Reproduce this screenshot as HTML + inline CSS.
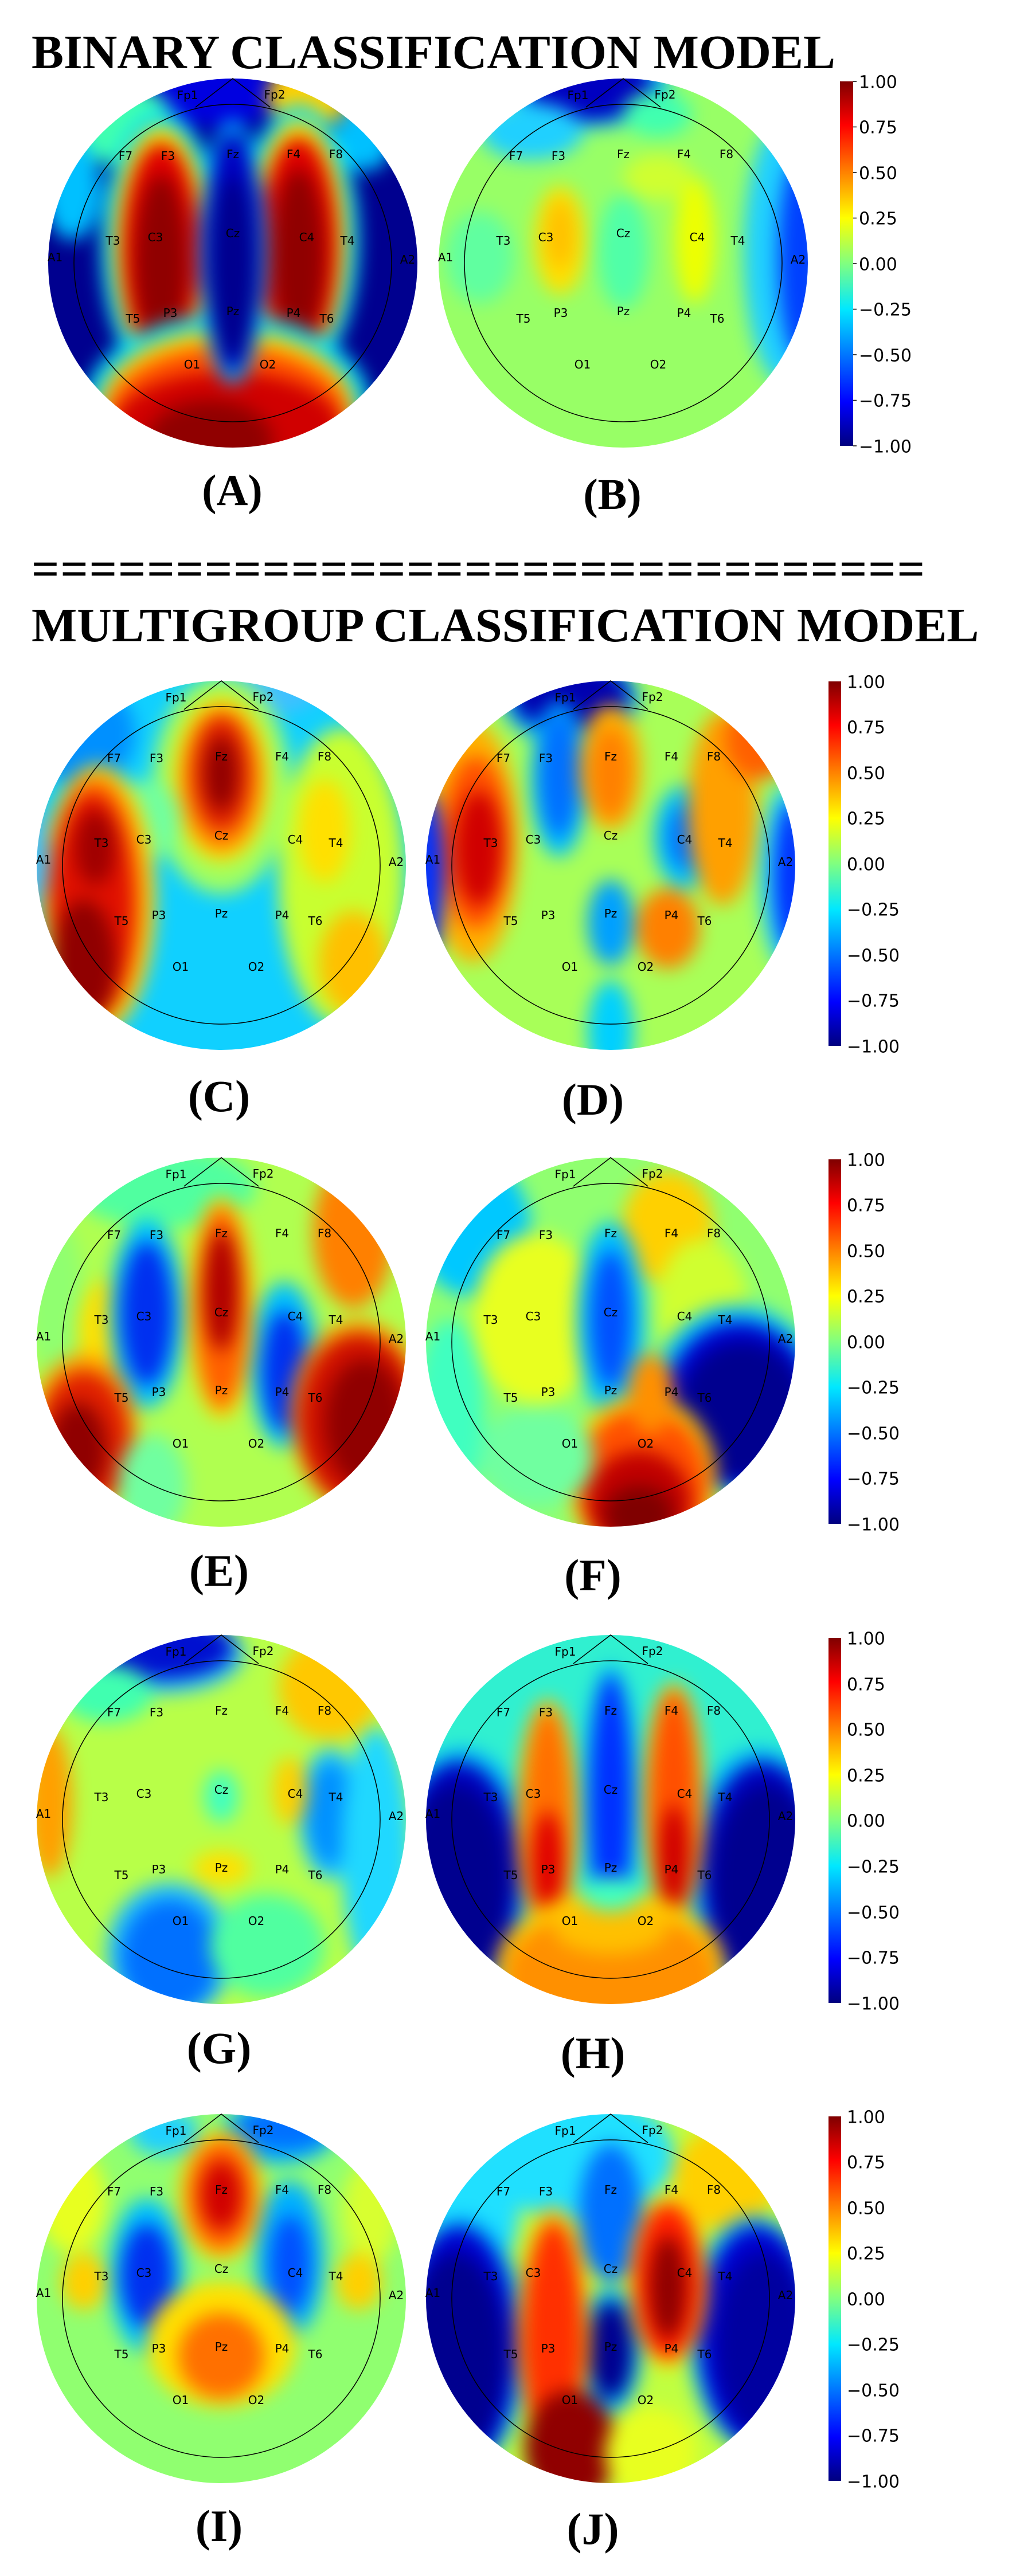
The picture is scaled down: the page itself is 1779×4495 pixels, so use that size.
<!DOCTYPE html>
<html><head><meta charset="utf-8">
<style>
html,body{margin:0;padding:0;background:#fff;}
svg{display:block;}
.t{font-family:"Liberation Serif",serif;font-weight:bold;fill:#000;}
.e{font-family:"DejaVu Sans","Liberation Sans",sans-serif;font-size:20px;fill:#000;text-anchor:middle;dominant-baseline:central;}
.cb{font-family:"DejaVu Sans","Liberation Sans",sans-serif;font-size:30px;fill:#000;dominant-baseline:central;}
</style></head>
<body>
<svg width="1779" height="4495" viewBox="0 0 1779 4495" xmlns="http://www.w3.org/2000/svg">
<defs>
<clipPath id="cl" clipPathUnits="userSpaceOnUse"><circle cx="0" cy="0" r="322"/></clipPath>
<filter id="bl" x="-50%" y="-50%" width="200%" height="200%" color-interpolation-filters="sRGB"><feGaussianBlur stdDeviation="16"/></filter>
<linearGradient id="jet" x1="0" y1="0" x2="0" y2="1">
<stop offset="0" stop-color="#7f0000"/><stop offset="0.12" stop-color="#ff0000"/>
<stop offset="0.375" stop-color="#ffff00"/><stop offset="0.5" stop-color="#80ff80"/>
<stop offset="0.625" stop-color="#00e8ff"/><stop offset="0.88" stop-color="#0000ff"/>
<stop offset="1" stop-color="#00007f"/></linearGradient>
<g id="ol" fill="none" stroke="#000" stroke-width="1.5">
<circle cx="0" cy="0" r="277"/>
<polyline points="-65,-272 0,-322 65,-272"/>
</g>
<g id="lab">
<text class="e" x="-79" y="-293">Fp1</text><text class="e" x="73" y="-294">Fp2</text>
<text class="e" x="-187" y="-187">F7</text><text class="e" x="-113" y="-187">F3</text>
<text class="e" x="0" y="-190">Fz</text><text class="e" x="106" y="-190">F4</text>
<text class="e" x="180" y="-190">F8</text>
<text class="e" x="-209" y="-39">T3</text><text class="e" x="-135" y="-45">C3</text>
<text class="e" x="0" y="-52">Cz</text><text class="e" x="129" y="-45">C4</text>
<text class="e" x="200" y="-39">T4</text>
<text class="e" x="-310" y="-10">A1</text><text class="e" x="305" y="-6">A2</text>
<text class="e" x="-174" y="97">T5</text><text class="e" x="-109" y="87">P3</text>
<text class="e" x="0" y="84">Pz</text><text class="e" x="106" y="87">P4</text>
<text class="e" x="164" y="97">T6</text>
<text class="e" x="-71" y="177">O1</text><text class="e" x="61" y="177">O2</text>
</g>
</defs>

<text class="t" x="55" y="119" font-size="84">BINARY CLASSIFICATION MODEL</text>

<!-- A -->
<g transform="translate(406,459)">
<g clip-path="url(#cl)"><g filter="url(#bl)">
<rect x="-420" y="-420" width="840" height="840" fill="#00008f"/>
<ellipse cx="-30" cy="-300" rx="120" ry="60" fill="#0000e0"/>
<ellipse cx="-190" cy="-240" rx="90" ry="70" fill="#40ffb0"/>
<ellipse cx="130" cy="-290" rx="70" ry="60" fill="#ffd000"/>
<ellipse cx="-280" cy="-130" rx="50" ry="90" fill="#00c0ff"/>
<ellipse cx="230" cy="-220" rx="50" ry="60" fill="#00c0ff"/>
<ellipse cx="-125" cy="-30" rx="105" ry="235" fill="#00e0ff"/>
<ellipse cx="-125" cy="-30" rx="85" ry="210" fill="#ffe000"/>
<ellipse cx="-125" cy="-20" rx="68" ry="190" fill="#e00000"/>
<ellipse cx="-125" cy="0" rx="45" ry="155" fill="#900000"/>
<ellipse cx="115" cy="-40" rx="105" ry="235" fill="#00e0ff"/>
<ellipse cx="115" cy="-40" rx="85" ry="210" fill="#ffe000"/>
<ellipse cx="115" cy="-30" rx="68" ry="190" fill="#e00000"/>
<ellipse cx="115" cy="-10" rx="45" ry="155" fill="#900000"/>
<ellipse cx="-10" cy="250" rx="250" ry="160" fill="#00e0ff"/>
<ellipse cx="-10" cy="260" rx="225" ry="145" fill="#ffd000"/>
<ellipse cx="-10" cy="270" rx="210" ry="125" fill="#ff5000"/>
<ellipse cx="-10" cy="290" rx="200" ry="100" fill="#d00000"/>
<ellipse cx="-40" cy="310" rx="110" ry="70" fill="#900000"/>
<ellipse cx="0" cy="-20" rx="60" ry="230" fill="#00c0ff"/>
<ellipse cx="0" cy="-20" rx="48" ry="210" fill="#0000c0"/>
<ellipse cx="0" cy="10" rx="38" ry="160" fill="#00008f"/>
</g></g>
<use href="#ol"/><use href="#lab"/>
</g>

<!-- B -->
<g transform="translate(1087,459)">
<g clip-path="url(#cl)"><g filter="url(#bl)">
<rect x="-420" y="-420" width="840" height="840" fill="#98ff66"/>
<ellipse cx="-60" cy="-310" rx="140" ry="75" fill="#00b0ff"/>
<ellipse cx="-60" cy="-310" rx="110" ry="60" fill="#0000c0"/>
<ellipse cx="-160" cy="-230" rx="90" ry="50" fill="#20d0ff"/>
<ellipse cx="60" cy="-260" rx="60" ry="40" fill="#40ffb0"/>
<ellipse cx="280" cy="-20" rx="70" ry="230" fill="#20d0ff"/>
<ellipse cx="310" cy="-10" rx="40" ry="180" fill="#0040ff"/>
<ellipse cx="-250" cy="-10" rx="60" ry="80" fill="#60ffa0"/>
<ellipse cx="-110" cy="-40" rx="45" ry="95" fill="#ffe000"/>
<ellipse cx="-110" cy="-50" rx="25" ry="60" fill="#ffc000"/>
<ellipse cx="125" cy="-40" rx="35" ry="110" fill="#eeff00"/>
<ellipse cx="0" cy="-20" rx="45" ry="100" fill="#50ffa8"/>
<ellipse cx="60" cy="-150" rx="60" ry="40" fill="#d0ff30"/>
</g></g>
<use href="#ol"/><use href="#lab"/>
</g>

<!-- colorbar 1 -->
<rect x="1465" y="142" width="23" height="636" fill="url(#jet)"/>
<g stroke="#000" stroke-width="1.5">
<line x1="1488" y1="142" x2="1494" y2="142"/><line x1="1488" y1="221.5" x2="1494" y2="221.5"/><line x1="1488" y1="301" x2="1494" y2="301"/><line x1="1488" y1="380.5" x2="1494" y2="380.5"/><line x1="1488" y1="460" x2="1494" y2="460"/><line x1="1488" y1="539.5" x2="1494" y2="539.5"/><line x1="1488" y1="619" x2="1494" y2="619"/><line x1="1488" y1="698.5" x2="1494" y2="698.5"/><line x1="1488" y1="778" x2="1494" y2="778"/>
</g>
<g>
<text class="cb" x="1498" y="144">1.00</text><text class="cb" x="1498" y="223">0.75</text><text class="cb" x="1498" y="303">0.50</text><text class="cb" x="1498" y="382">0.25</text><text class="cb" x="1498" y="462">0.00</text><text class="cb" x="1498" y="541">−0.25</text><text class="cb" x="1498" y="621">−0.50</text><text class="cb" x="1498" y="700">−0.75</text><text class="cb" x="1498" y="780">−1.00</text>
</g>

<text class="t" x="405" y="881" font-size="76" text-anchor="middle">(A)</text>
<text class="t" x="1068" y="888" font-size="76" text-anchor="middle">(B)</text>

<text class="t" x="55" y="1021" font-size="85" textLength="1558" lengthAdjust="spacing">===============================</text>

<text class="t" x="55" y="1119" font-size="84">MULTIGROUP CLASSIFICATION MODEL</text>

<!-- C -->
<g transform="translate(386,1510)">
<g clip-path="url(#cl)"><g filter="url(#bl)">
<rect x="-420" y="-420" width="840" height="840" fill="#10d0ff"/>
<ellipse cx="-240" cy="-230" rx="90" ry="90" fill="#0090ff"/>
<ellipse cx="60" cy="-300" rx="110" ry="40" fill="#40c0ff"/>
<ellipse cx="210" cy="20" rx="110" ry="260" fill="#c8ff30"/>
<ellipse cx="180" cy="-60" rx="45" ry="90" fill="#ffe000"/>
<ellipse cx="230" cy="170" rx="60" ry="90" fill="#ffc000"/>
<ellipse cx="0" cy="-140" rx="120" ry="190" fill="#a0ff60"/>
<ellipse cx="0" cy="-150" rx="85" ry="145" fill="#ffe000"/>
<ellipse cx="0" cy="-150" rx="70" ry="125" fill="#ff8000"/>
<ellipse cx="0" cy="-160" rx="50" ry="100" fill="#e02000"/>
<ellipse cx="0" cy="-160" rx="28" ry="65" fill="#900000"/>
<ellipse cx="-130" cy="-80" rx="60" ry="70" fill="#70ffa0"/>
<ellipse cx="-215" cy="60" rx="100" ry="235" fill="#ffe000"/>
<ellipse cx="-220" cy="60" rx="85" ry="215" fill="#ff7000"/>
<ellipse cx="-225" cy="70" rx="70" ry="195" fill="#e01000"/>
<ellipse cx="-240" cy="170" rx="55" ry="110" fill="#900000"/>
<ellipse cx="-220" cy="-30" rx="35" ry="65" fill="#a00000"/>
<ellipse cx="-325" cy="-20" rx="25" ry="90" fill="#40c0ff"/>
</g></g>
<use href="#ol"/><use href="#lab"/>
</g>

<!-- D -->
<g transform="translate(1065,1510)">
<g clip-path="url(#cl)"><g filter="url(#bl)">
<rect x="-420" y="-420" width="840" height="840" fill="#a8ff58"/>
<ellipse cx="-70" cy="-290" rx="120" ry="80" fill="#00a0ff"/>
<ellipse cx="-70" cy="-295" rx="100" ry="60" fill="#0000b0"/>
<ellipse cx="-90" cy="-150" rx="50" ry="135" fill="#00c0ff"/>
<ellipse cx="-90" cy="-160" rx="35" ry="110" fill="#0070ff"/>
<ellipse cx="-240" cy="-40" rx="80" ry="210" fill="#ffb000"/>
<ellipse cx="-235" cy="-40" rx="60" ry="150" fill="#ff5000"/>
<ellipse cx="-230" cy="-30" rx="40" ry="100" fill="#d00000"/>
<ellipse cx="-320" cy="20" rx="30" ry="150" fill="#0030ff"/>
<ellipse cx="0" cy="-170" rx="55" ry="110" fill="#ffb000"/>
<ellipse cx="0" cy="-160" rx="35" ry="80" fill="#ff8000"/>
<ellipse cx="130" cy="-50" rx="55" ry="90" fill="#00c0ff"/>
<ellipse cx="130" cy="-50" rx="30" ry="55" fill="#0070ff"/>
<ellipse cx="195" cy="-100" rx="60" ry="170" fill="#ffa000"/>
<ellipse cx="260" cy="-220" rx="60" ry="70" fill="#ff6000"/>
<ellipse cx="305" cy="20" rx="45" ry="160" fill="#20d0ff"/>
<ellipse cx="315" cy="20" rx="30" ry="130" fill="#0030ff"/>
<ellipse cx="0" cy="100" rx="40" ry="75" fill="#00a0ff"/>
<ellipse cx="100" cy="110" rx="55" ry="70" fill="#ff8000"/>
<ellipse cx="0" cy="290" rx="40" ry="90" fill="#00d0ff"/>
</g></g>
<use href="#ol"/><use href="#lab"/>
</g>

<!-- E -->
<g transform="translate(386,2342)">
<g clip-path="url(#cl)"><g filter="url(#bl)">
<rect x="-420" y="-420" width="840" height="840" fill="#b0ff50"/>
<ellipse cx="-100" cy="-270" rx="160" ry="70" fill="#50ffa0"/>
<ellipse cx="-290" cy="-80" rx="50" ry="140" fill="#90ff70"/>
<ellipse cx="-200" cy="-20" rx="50" ry="90" fill="#ffe000"/>
<ellipse cx="-130" cy="-50" rx="65" ry="165" fill="#00c0ff"/>
<ellipse cx="-130" cy="-50" rx="45" ry="125" fill="#0030f0"/>
<ellipse cx="110" cy="40" rx="60" ry="145" fill="#00c0ff"/>
<ellipse cx="110" cy="50" rx="38" ry="105" fill="#0030f0"/>
<ellipse cx="0" cy="-60" rx="60" ry="195" fill="#ffd000"/>
<ellipse cx="0" cy="-60" rx="45" ry="175" fill="#ff6000"/>
<ellipse cx="0" cy="-90" rx="30" ry="105" fill="#b00000"/>
<ellipse cx="-240" cy="160" rx="95" ry="140" fill="#ffa000"/>
<ellipse cx="-240" cy="170" rx="80" ry="120" fill="#e02000"/>
<ellipse cx="-250" cy="185" rx="50" ry="80" fill="#900000"/>
<ellipse cx="240" cy="130" rx="120" ry="170" fill="#ffa000"/>
<ellipse cx="240" cy="135" rx="105" ry="150" fill="#d01000"/>
<ellipse cx="250" cy="140" rx="70" ry="110" fill="#900000"/>
<ellipse cx="230" cy="-190" rx="70" ry="130" fill="#ff8000"/>
<ellipse cx="-120" cy="250" rx="60" ry="90" fill="#70ffa0"/>
</g></g>
<use href="#ol"/><use href="#lab"/>
</g>

<!-- F -->
<g transform="translate(1065,2342)">
<g clip-path="url(#cl)"><g filter="url(#bl)">
<rect x="-420" y="-420" width="840" height="840" fill="#90ff70"/>
<ellipse cx="-240" cy="-200" rx="100" ry="120" fill="#00c8ff"/>
<ellipse cx="-280" cy="120" rx="60" ry="160" fill="#40ffc0"/>
<ellipse cx="-130" cy="-40" rx="110" ry="150" fill="#e8ff20"/>
<ellipse cx="100" cy="-200" rx="80" ry="100" fill="#ffd000"/>
<ellipse cx="160" cy="-60" rx="80" ry="120" fill="#d0ff30"/>
<ellipse cx="0" cy="-40" rx="60" ry="170" fill="#00c0ff"/>
<ellipse cx="0" cy="-40" rx="35" ry="120" fill="#0050ff"/>
<ellipse cx="220" cy="100" rx="150" ry="165" fill="#00c0ff"/>
<ellipse cx="225" cy="110" rx="130" ry="145" fill="#0000d0"/>
<ellipse cx="230" cy="120" rx="110" ry="120" fill="#00008f"/>
<ellipse cx="55" cy="240" rx="130" ry="150" fill="#ffd000"/>
<ellipse cx="55" cy="250" rx="115" ry="135" fill="#ff5000"/>
<ellipse cx="50" cy="280" rx="90" ry="90" fill="#c00000"/>
<ellipse cx="50" cy="300" rx="60" ry="50" fill="#800000"/>
<ellipse cx="70" cy="90" rx="40" ry="70" fill="#ff9000"/>
<ellipse cx="-130" cy="200" rx="100" ry="90" fill="#70ffa0"/>
</g></g>
<use href="#ol"/><use href="#lab"/>
</g>

<!-- colorbar 2 -->
<rect x="1445" y="1189" width="22" height="636" fill="url(#jet)"/>
<g>
<text class="cb" x="1477" y="1191">1.00</text><text class="cb" x="1477" y="1270">0.75</text><text class="cb" x="1477" y="1350">0.50</text><text class="cb" x="1477" y="1429">0.25</text><text class="cb" x="1477" y="1509">0.00</text><text class="cb" x="1477" y="1588">−0.25</text><text class="cb" x="1477" y="1668">−0.50</text><text class="cb" x="1477" y="1747">−0.75</text><text class="cb" x="1477" y="1827">−1.00</text>
</g>
<text class="t" x="382" y="1939" font-size="78" text-anchor="middle">(C)</text>
<text class="t" x="1034" y="1945" font-size="78" text-anchor="middle">(D)</text>

<!-- colorbar 3 -->
<rect x="1445" y="2023" width="22" height="636" fill="url(#jet)"/>
<g>
<text class="cb" x="1477" y="2025">1.00</text><text class="cb" x="1477" y="2104">0.75</text><text class="cb" x="1477" y="2184">0.50</text><text class="cb" x="1477" y="2263">0.25</text><text class="cb" x="1477" y="2343">0.00</text><text class="cb" x="1477" y="2422">−0.25</text><text class="cb" x="1477" y="2502">−0.50</text><text class="cb" x="1477" y="2581">−0.75</text><text class="cb" x="1477" y="2661">−1.00</text>
</g>
<text class="t" x="382" y="2767" font-size="78" text-anchor="middle">(E)</text>
<text class="t" x="1034" y="2775" font-size="78" text-anchor="middle">(F)</text>

<!-- G -->
<g transform="translate(386,3175)">
<g clip-path="url(#cl)"><g filter="url(#bl)">
<rect x="-420" y="-420" width="840" height="840" fill="#b8ff48"/>
<ellipse cx="-100" cy="-290" rx="140" ry="70" fill="#20c0ff"/>
<ellipse cx="-100" cy="-300" rx="120" ry="55" fill="#0010d0"/>
<ellipse cx="-200" cy="-220" rx="80" ry="50" fill="#40ffb0"/>
<ellipse cx="190" cy="-230" rx="90" ry="90" fill="#ffc800"/>
<ellipse cx="-300" cy="-30" rx="40" ry="130" fill="#ffa000"/>
<ellipse cx="190" cy="-10" rx="55" ry="115" fill="#20c8ff"/>
<ellipse cx="190" cy="-10" rx="40" ry="90" fill="#0090ff"/>
<ellipse cx="270" cy="60" rx="60" ry="220" fill="#20d8ff"/>
<ellipse cx="-90" cy="230" rx="110" ry="120" fill="#20c0ff"/>
<ellipse cx="-90" cy="240" rx="85" ry="100" fill="#0070ff"/>
<ellipse cx="80" cy="220" rx="100" ry="90" fill="#50ffa0"/>
<ellipse cx="0" cy="-40" rx="30" ry="45" fill="#40ffc0"/>
<ellipse cx="120" cy="-50" rx="30" ry="60" fill="#ffd000"/>
<ellipse cx="0" cy="85" rx="50" ry="30" fill="#ffe000"/>
</g></g>
<use href="#ol"/><use href="#lab"/>
</g>

<!-- H -->
<g transform="translate(1065,3175)">
<g clip-path="url(#cl)"><g filter="url(#bl)">
<rect x="-420" y="-420" width="840" height="840" fill="#30f0d0"/>
<ellipse cx="-260" cy="90" rx="125" ry="215" fill="#00b0ff"/>
<ellipse cx="-265" cy="95" rx="105" ry="195" fill="#0000c0"/>
<ellipse cx="-270" cy="110" rx="90" ry="170" fill="#00008f"/>
<ellipse cx="260" cy="90" rx="125" ry="215" fill="#00b0ff"/>
<ellipse cx="265" cy="95" rx="105" ry="195" fill="#0000c0"/>
<ellipse cx="270" cy="110" rx="90" ry="170" fill="#00008f"/>
<ellipse cx="0" cy="-30" rx="50" ry="240" fill="#00b0ff"/>
<ellipse cx="0" cy="-30" rx="35" ry="220" fill="#0030ff"/>
<ellipse cx="-110" cy="0" rx="55" ry="210" fill="#ffd000"/>
<ellipse cx="-110" cy="0" rx="42" ry="195" fill="#ff7000"/>
<ellipse cx="-110" cy="80" rx="28" ry="95" fill="#e00000"/>
<ellipse cx="110" cy="-30" rx="55" ry="210" fill="#ffd000"/>
<ellipse cx="110" cy="-30" rx="42" ry="195" fill="#ff5000"/>
<ellipse cx="110" cy="70" rx="28" ry="95" fill="#d00000"/>
<ellipse cx="0" cy="260" rx="200" ry="135" fill="#ffd000"/>
<ellipse cx="0" cy="275" rx="185" ry="120" fill="#ff9000"/>
<ellipse cx="0" cy="190" rx="100" ry="45" fill="#ffc000"/>
<ellipse cx="0" cy="130" rx="50" ry="30" fill="#40ffc0"/>
</g></g>
<use href="#ol"/><use href="#lab"/>
</g>

<!-- colorbar 4 -->
<rect x="1445" y="2858" width="22" height="637" fill="url(#jet)"/>
<g>
<text class="cb" x="1477" y="2860">1.00</text><text class="cb" x="1477" y="2940">0.75</text><text class="cb" x="1477" y="3019">0.50</text><text class="cb" x="1477" y="3099">0.25</text><text class="cb" x="1477" y="3178">0.00</text><text class="cb" x="1477" y="3258">−0.25</text><text class="cb" x="1477" y="3338">−0.50</text><text class="cb" x="1477" y="3417">−0.75</text><text class="cb" x="1477" y="3497">−1.00</text>
</g>
<text class="t" x="382" y="3600" font-size="78" text-anchor="middle">(G)</text>
<text class="t" x="1034" y="3609" font-size="78" text-anchor="middle">(H)</text>

<!-- I -->
<g transform="translate(386,4011)">
<g clip-path="url(#cl)"><g filter="url(#bl)">
<rect x="-420" y="-420" width="840" height="840" fill="#90ff70"/>
<ellipse cx="100" cy="-290" rx="100" ry="55" fill="#00b0ff"/>
<ellipse cx="110" cy="-300" rx="80" ry="40" fill="#0070ff"/>
<ellipse cx="-100" cy="-290" rx="60" ry="40" fill="#20d0ff"/>
<ellipse cx="-260" cy="-170" rx="60" ry="90" fill="#e8ff20"/>
<ellipse cx="260" cy="-150" rx="50" ry="90" fill="#d8ff30"/>
<ellipse cx="-240" cy="-30" rx="40" ry="50" fill="#ffd000"/>
<ellipse cx="240" cy="-30" rx="40" ry="50" fill="#ffd000"/>
<ellipse cx="-130" cy="-40" rx="65" ry="135" fill="#00c0ff"/>
<ellipse cx="-130" cy="-40" rx="45" ry="90" fill="#0030f0"/>
<ellipse cx="120" cy="-70" rx="60" ry="135" fill="#00b0ff"/>
<ellipse cx="120" cy="-60" rx="35" ry="85" fill="#0050ff"/>
<ellipse cx="0" cy="-180" rx="75" ry="115" fill="#ffd000"/>
<ellipse cx="0" cy="-180" rx="58" ry="95" fill="#ff6000"/>
<ellipse cx="0" cy="-180" rx="35" ry="60" fill="#d00000"/>
<ellipse cx="0" cy="80" rx="130" ry="110" fill="#ffe000"/>
<ellipse cx="0" cy="100" rx="75" ry="75" fill="#ff7000"/>
</g></g>
<use href="#ol"/><use href="#lab"/>
</g>

<!-- J -->
<g transform="translate(1065,4011)">
<g clip-path="url(#cl)"><g filter="url(#bl)">
<rect x="-420" y="-420" width="840" height="840" fill="#c0ff40"/>
<ellipse cx="-60" cy="-250" rx="170" ry="110" fill="#20e0ff"/>
<ellipse cx="-240" cy="-150" rx="80" ry="110" fill="#20e0ff"/>
<ellipse cx="200" cy="-210" rx="90" ry="90" fill="#ffd000"/>
<ellipse cx="-260" cy="80" rx="115" ry="225" fill="#00b0ff"/>
<ellipse cx="-265" cy="85" rx="100" ry="210" fill="#0000d0"/>
<ellipse cx="-270" cy="100" rx="85" ry="180" fill="#00008f"/>
<ellipse cx="250" cy="60" rx="115" ry="205" fill="#00b0ff"/>
<ellipse cx="255" cy="65" rx="100" ry="190" fill="#0000d0"/>
<ellipse cx="265" cy="80" rx="80" ry="160" fill="#0000a0"/>
<ellipse cx="0" cy="-150" rx="55" ry="120" fill="#0070ff"/>
<ellipse cx="0" cy="90" rx="55" ry="110" fill="#00b0ff"/>
<ellipse cx="0" cy="90" rx="38" ry="85" fill="#000090"/>
<ellipse cx="-100" cy="60" rx="65" ry="220" fill="#ffd000"/>
<ellipse cx="-100" cy="70" rx="52" ry="205" fill="#ff3000"/>
<ellipse cx="-70" cy="260" rx="80" ry="100" fill="#900000"/>
<ellipse cx="100" cy="-30" rx="70" ry="150" fill="#ffd000"/>
<ellipse cx="100" cy="-30" rx="58" ry="135" fill="#ff2000"/>
<ellipse cx="100" cy="-20" rx="32" ry="90" fill="#900000"/>
<ellipse cx="70" cy="270" rx="80" ry="80" fill="#e8ff20"/>
</g></g>
<use href="#ol"/><use href="#lab"/>
</g>

<!-- colorbar 5 -->
<rect x="1445" y="3693" width="22" height="636" fill="url(#jet)"/>
<g>
<text class="cb" x="1477" y="3695">1.00</text><text class="cb" x="1477" y="3774">0.75</text><text class="cb" x="1477" y="3854">0.50</text><text class="cb" x="1477" y="3933">0.25</text><text class="cb" x="1477" y="4013">0.00</text><text class="cb" x="1477" y="4092">−0.25</text><text class="cb" x="1477" y="4172">−0.50</text><text class="cb" x="1477" y="4251">−0.75</text><text class="cb" x="1477" y="4331">−1.00</text>
</g>
<text class="t" x="382" y="4434" font-size="78" text-anchor="middle">(I)</text>
<text class="t" x="1034" y="4439" font-size="78" text-anchor="middle">(J)</text>
</svg>
</body></html>
